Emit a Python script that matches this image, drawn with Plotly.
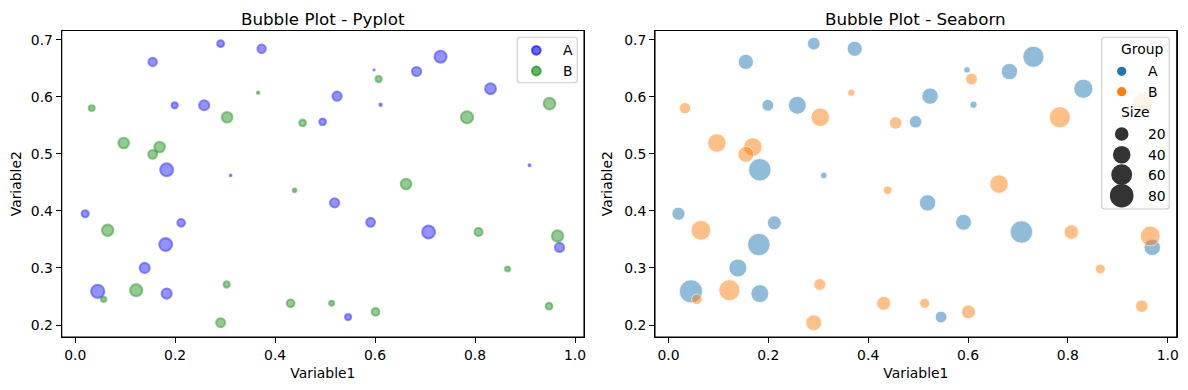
import numpy as np
import plotly.graph_objects as go

# ---------------- data ----------------
a_x = [0.291, 0.373, 0.155, 0.199, 0.258, 0.495, 0.183, 0.311, 0.598, 0.683, 0.731, 0.831, 0.524,
       0.611, 0.909, 0.020, 0.212, 0.181, 0.139, 0.045, 0.183, 0.519, 0.591, 0.707, 0.969, 0.546]
a_y = [0.693, 0.684, 0.661, 0.585, 0.585, 0.556, 0.472, 0.462, 0.647, 0.644, 0.670, 0.614, 0.601,
       0.586, 0.480, 0.395, 0.379, 0.341, 0.300, 0.259, 0.255, 0.414, 0.380, 0.363, 0.336, 0.214]
a_size = [22, 34, 34, 18, 50, 21, 82, 1, 0.5, 41, 72, 58, 41,
          2.3, 1.5, 24, 28, 82, 50, 88, 50, 41, 38, 82, 41, 18]

b_x = [0.366, 0.033, 0.304, 0.455, 0.097, 0.169, 0.155, 0.439, 0.607, 0.949, 0.784, 0.662,
       0.065, 0.122, 0.057, 0.303, 0.291, 0.431, 0.807, 0.965, 0.865, 0.513, 0.601, 0.948]
b_y = [0.607, 0.580, 0.564, 0.554, 0.519, 0.512, 0.499, 0.436, 0.631, 0.588, 0.564, 0.447,
       0.366, 0.261, 0.245, 0.271, 0.204, 0.238, 0.363, 0.356, 0.298, 0.238, 0.223, 0.233]
b_size = [2.5, 16, 54, 21, 54, 54, 38, 6, 18, 67, 72, 54,
          63, 72, 13, 18, 38, 28, 31, 63, 11, 11, 28, 21]

group_labels = ["A", "B"]
size_legend_values = [20, 40, 60, 80]
x_ticks = [0.0, 0.2, 0.4, 0.6, 0.8, 1.0]
y_ticks = [0.2, 0.3, 0.4, 0.5, 0.6, 0.7]

# ---------------- styling ----------------
OFF = 8  # default page body margin
W, H = 1188 - OFF, 390 - 2 * OFF
PX_PER_PT = 100 / 72
FONT = "DejaVu Sans"
FS = 13.9
FS_TITLE = 16.7

LEFT_COLORS = ["rgba(0,0,255,0.6)", "rgba(0,128,0,0.6)"]
RIGHT_COLORS = ["rgba(31,119,180,0.7)", "rgba(255,127,14,0.7)"]
RIGHT_SOLID = ["#1f77b4", "#ff7f0e"]


def left_diam(s):
    return np.sqrt(np.maximum(np.asarray(s, float), 0)) * PX_PER_PT + 0.3


def right_diam(s):
    return np.sqrt(50 + 6 * np.asarray(s, float))


def fx(x):  # reference pixel x -> paper
    return (x - OFF) / W


def fy(y):  # reference pixel y -> paper
    return 1 - (y - OFF) / H


XR = [-0.027, 1.018]
YR = [0.179, 0.716]
L_DOM = [fx(61.7), fx(584)]
R_DOM = [fx(655), fx(1176.7)]
Y_DOM = [fy(337), fy(30.5)]

fig = go.Figure()

groups = [(a_x, a_y, a_size), (b_x, b_y, b_size)]
for i, (gx, gy, gs) in enumerate(groups):
    fig.add_trace(go.Scatter(
        x=gx, y=gy, mode="markers", xaxis="x", yaxis="y", showlegend=False,
        name=group_labels[i],
        marker=dict(size=left_diam(gs), color=LEFT_COLORS[i],
                    line=dict(color=LEFT_COLORS[i], width=1.5 * PX_PER_PT)),
    ))
for i, (gx, gy, gs) in enumerate(groups):
    fig.add_trace(go.Scatter(
        x=gx, y=gy, mode="markers", xaxis="x2", yaxis="y2", showlegend=False,
        name=group_labels[i],
        marker=dict(size=right_diam(gs) - 0.8, color=RIGHT_COLORS[i],
                    line=dict(color="white", width=0.8)),
    ))

axis_common = dict(
    showgrid=False, zeroline=False, showline=True, mirror=True,
    linecolor="black", linewidth=1, ticks="outside", ticklen=5,
    tickwidth=1, tickcolor="black", automargin=False,
    tickfont=dict(family=FONT, size=FS, color="black"),
)
fig.update_layout(
    xaxis=dict(domain=L_DOM, range=XR, anchor="y", tickvals=x_ticks,
               ticktext=[f"{v:.1f}" for v in x_ticks],
               title=dict(text="Variable1", standoff=6,
                          font=dict(family=FONT, size=FS, color="black")), **axis_common),
    yaxis=dict(domain=Y_DOM, range=YR, anchor="x", tickvals=y_ticks,
               ticktext=[f"{v:.1f}" for v in y_ticks],
               title=dict(text="Variable2", standoff=8,
                          font=dict(family=FONT, size=FS, color="black")), **axis_common),
    xaxis2=dict(domain=R_DOM, range=XR, anchor="y2", tickvals=x_ticks,
                ticktext=[f"{v:.1f}" for v in x_ticks],
                title=dict(text="Variable1", standoff=6,
                           font=dict(family=FONT, size=FS, color="black")), **axis_common),
    yaxis2=dict(domain=Y_DOM, range=YR, anchor="x2", tickvals=y_ticks,
                ticktext=[f"{v:.1f}" for v in y_ticks],
                title=dict(text="Variable2", standoff=8,
                           font=dict(family=FONT, size=FS, color="black")), **axis_common),
    width=W, height=H, margin=dict(l=0, r=0, t=0, b=0, pad=0),
    plot_bgcolor="white", paper_bgcolor="white",
    font=dict(family=FONT, size=FS, color="black"),
)

shapes = []
annotations = []

# axes frames (drawn explicitly as well)
for xr_, yr_ in (("x domain", "y domain"), ("x2 domain", "y2 domain")):
    shapes.append(dict(type="rect", xref=xr_, yref=yr_, x0=0, x1=1, y0=0, y1=1,
                       line=dict(color="black", width=1.1), fillcolor="rgba(0,0,0,0)",
                       layer="above"))


def rrect(x0, y0, x1, y1, r, fill, line):
    def P(x, y):
        return f"{fx(x):.6f},{fy(y):.6f}"
    path = (f"M {P(x0 + r, y0)} L {P(x1 - r, y0)} Q {P(x1, y0)} {P(x1, y0 + r)} "
            f"L {P(x1, y1 - r)} Q {P(x1, y1)} {P(x1 - r, y1)} "
            f"L {P(x0 + r, y1)} Q {P(x0, y1)} {P(x0, y1 - r)} "
            f"L {P(x0, y0 + r)} Q {P(x0, y0)} {P(x0 + r, y0)} Z")
    return dict(type="path", xref="paper", yref="paper", path=path,
                fillcolor=fill, line=dict(color=line, width=1.1), layer="above")


def circ(cx, cy, d, fill, lcolor, lw):
    return dict(type="circle", xref="paper", yref="paper",
                x0=fx(cx - d / 2), x1=fx(cx + d / 2), y0=fy(cy + d / 2), y1=fy(cy - d / 2),
                fillcolor=fill, line=dict(color=lcolor, width=lw), layer="above")


def text(x, y, s, anchor="left", size=FS, pad=1):
    annotations.append(dict(x=fx(x), y=fy(y), xref="paper", yref="paper", text=s, showarrow=False,
                            xanchor=anchor, yanchor="middle", borderpad=pad,
                            font=dict(family=FONT, size=size, color="black")))


# titles
text((61.7 + 584) / 2, 18.5, "Bubble Plot - Pyplot", "center", FS_TITLE, 0)
text((655 + 1176.7) / 2, 18.5, "Bubble Plot - Seaborn", "center", FS_TITLE, 0)

# left legend
shapes.append(rrect(517.3, 37.3, 577.3, 82.7, 3, "rgba(255,255,255,0.8)", "#cccccc"))
for i, lab in enumerate(group_labels):
    cy = 50.3 + i * 20.7
    shapes.append(circ(536.3, cy, 8.8, LEFT_COLORS[i], LEFT_COLORS[i], 2))
    text(560.5, cy, lab)

# right legend
shapes.append(rrect(1101.7, 37.3, 1169.3, 209, 3, "rgba(255,255,255,0.8)", "#cccccc"))
text(1118.5, 49, "Group")
for i, lab in enumerate(group_labels):
    cy = 71.3 + i * 20.4
    shapes.append(circ(1121.7, cy, 9.3, RIGHT_SOLID[i], RIGHT_SOLID[i], 0))
    text(1145.5, cy, lab)
text(1118.5, 111.7, "Size")
size_rows_y = [134, 154.7, 174.7, 195.7]
for v, cy in zip(size_legend_values, size_rows_y):
    shapes.append(circ(1121.7, cy, float(right_diam(v)) + 0.6, "#333333", "#333333", 0))
    text(1145.5, cy, str(v))

fig.update_layout(shapes=shapes, annotations=annotations)
fig.write_html("out.html")
